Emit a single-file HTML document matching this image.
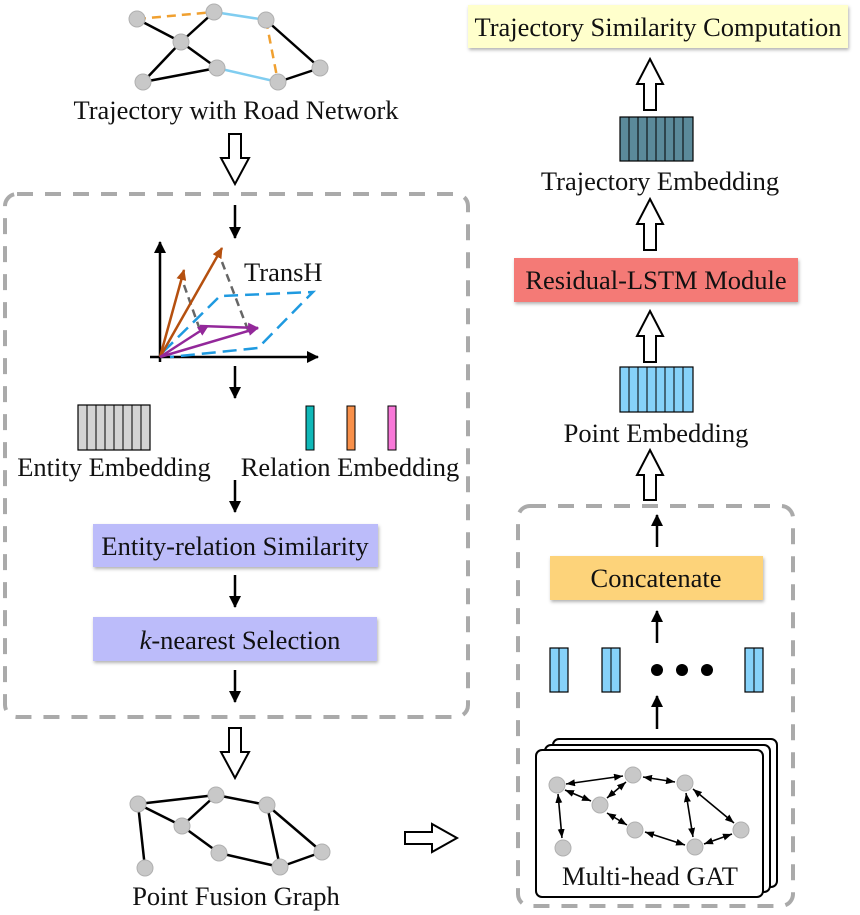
<!DOCTYPE html>
<html><head><meta charset="utf-8"><style>
html,body{margin:0;padding:0;background:#fff;}
svg{display:block;}
text{font-family:"Liberation Serif",serif;font-size:26.5px;fill:#111;}
</style></head><body>
<svg width="860" height="915" viewBox="0 0 860 915" xmlns="http://www.w3.org/2000/svg">
<defs>
<marker id="ahs" markerWidth="9" markerHeight="7" refX="9" refY="3.5" orient="auto-start-reverse" markerUnits="userSpaceOnUse"><path d="M0,0 L9,3.5 L0,7 z" fill="#000"/></marker>
<marker id="ao" markerWidth="11" markerHeight="10" refX="10" refY="5" orient="auto" markerUnits="userSpaceOnUse"><path d="M0,0 L11,5 L0,10 z" fill="#b5500f"/></marker>
<marker id="ap" markerWidth="11" markerHeight="10" refX="10" refY="5" orient="auto" markerUnits="userSpaceOnUse"><path d="M0,0 L11,5 L0,10 z" fill="#93289a"/></marker>
<marker id="ab" markerWidth="12" markerHeight="12" refX="11" refY="6" orient="auto" markerUnits="userSpaceOnUse"><path d="M0,0 L12,6 L0,12 z" fill="#000"/></marker>
<filter id="sh" x="-5%" y="-20%" width="110%" height="150%"><feDropShadow dx="1" dy="2" stdDeviation="1.5" flood-color="#000" flood-opacity="0.3"/></filter>
</defs>

<g stroke-width="2.5">
<line x1="137" y1="19" x2="214" y2="12" stroke="#f0a030" stroke-dasharray="9,6"/>
<line x1="214" y1="12" x2="266" y2="20" stroke="#80cdf0"/>
<line x1="266" y1="20" x2="278" y2="82" stroke="#f0a030" stroke-dasharray="9,6"/>
<line x1="266" y1="20" x2="320" y2="68" stroke="#000"/>
<line x1="320" y1="68" x2="278" y2="82" stroke="#000"/>
<line x1="278" y1="82" x2="217" y2="68" stroke="#80cdf0"/>
<line x1="217" y1="68" x2="181" y2="42" stroke="#000"/>
<line x1="181" y1="42" x2="137" y2="19" stroke="#000"/>
<line x1="181" y1="42" x2="214" y2="12" stroke="#000"/>
<line x1="181" y1="42" x2="143" y2="82" stroke="#000"/>
<line x1="143" y1="82" x2="217" y2="68" stroke="#000"/>
</g>
<g fill="#c8c8c8" stroke="#b0b0b0" stroke-width="1">
<circle cx="137" cy="19" r="8"/><circle cx="214" cy="12" r="8"/><circle cx="266" cy="20" r="8"/><circle cx="181" cy="42" r="8"/><circle cx="217" cy="68" r="8"/><circle cx="320" cy="68" r="8"/><circle cx="143" cy="82" r="8"/><circle cx="278" cy="82" r="8"/>
</g>
<text x="236" y="119" text-anchor="middle">Trajectory with Road Network</text>

<path d="M229,134 H241 V158 H249 L235,184 L221,158 H229 Z" fill="#fff" stroke="#000" stroke-width="2"/>
<path d="M229,728 H241 V752 H249 L235,778 L221,752 H229 Z" fill="#fff" stroke="#000" stroke-width="2"/>

<rect x="5" y="194" width="463" height="523" rx="12" fill="none" stroke="#aaa" stroke-width="4" stroke-dasharray="16,12"/>

<g stroke="#000" stroke-width="2.5" marker-end="url(#ab)">
<line x1="235" y1="205" x2="235" y2="238"/>
<line x1="235" y1="366" x2="235" y2="398"/>
<line x1="235" y1="480" x2="235" y2="512"/>
<line x1="235" y1="575" x2="235" y2="607"/>
<line x1="235" y1="670" x2="235" y2="702"/>
</g>

<g stroke-width="2.5">
<line x1="160" y1="362" x2="160" y2="242" stroke="#000" marker-end="url(#ab)"/>
<line x1="150" y1="357" x2="318" y2="357" stroke="#000" marker-end="url(#ab)"/>
<line x1="184" y1="285" x2="200" y2="330" stroke="#666" stroke-dasharray="8,5"/>
<line x1="222" y1="262" x2="248" y2="330" stroke="#666" stroke-dasharray="8,5"/>
<path d="M163,352 L220,296 L313,292 L258,348 L170,357" fill="none" stroke="#1f9ae0" stroke-dasharray="14,7"/>
<line x1="160" y1="357" x2="184" y2="270" stroke="#b5500f" marker-end="url(#ao)"/>
<line x1="160" y1="357" x2="222" y2="248" stroke="#b5500f" marker-end="url(#ao)"/>
<line x1="160" y1="357" x2="208" y2="326" stroke="#93289a" marker-end="url(#ap)"/>
<line x1="160" y1="357" x2="258" y2="328" stroke="#93289a" marker-end="url(#ap)"/>
<line x1="200" y1="326" x2="258" y2="328" stroke="#93289a" marker-end="url(#ap)"/>
</g>
<text x="244" y="281">TransH</text>

<rect x="78" y="405" width="72" height="45" fill="#d3d3d3" stroke="#000" stroke-width="1.2"/>
<g stroke="#000" stroke-width="1"><line x1="87" y1="405" x2="87" y2="450"/><line x1="96" y1="405" x2="96" y2="450"/><line x1="105" y1="405" x2="105" y2="450"/><line x1="114" y1="405" x2="114" y2="450"/><line x1="123" y1="405" x2="123" y2="450"/><line x1="132" y1="405" x2="132" y2="450"/><line x1="141" y1="405" x2="141" y2="450"/></g>
<text x="114" y="476" text-anchor="middle">Entity Embedding</text>
<rect x="306" y="406" width="8" height="44" fill="#10b8b8" stroke="#000" stroke-width="1"/>
<rect x="347" y="406" width="8" height="44" fill="#f8904a" stroke="#000" stroke-width="1"/>
<rect x="388" y="406" width="8" height="44" fill="#f878d8" stroke="#000" stroke-width="1"/>
<text x="350" y="476" text-anchor="middle">Relation Embedding</text>

<rect x="93" y="524" width="285" height="43" fill="#bcbcfa" filter="url(#sh)"/>
<text x="235" y="555" text-anchor="middle">Entity-relation Similarity</text>
<rect x="93" y="617" width="284" height="44" fill="#bcbcfa" filter="url(#sh)"/>
<text x="240" y="649" text-anchor="middle"><tspan font-style="italic">k</tspan>-nearest Selection</text>

<g stroke="#000" stroke-width="2.5">
<line x1="138" y1="804" x2="216" y2="795"/><line x1="216" y1="795" x2="267" y2="805"/>
<line x1="138" y1="804" x2="182" y2="826"/><line x1="182" y1="826" x2="216" y2="795"/>
<line x1="138" y1="804" x2="145" y2="868"/><line x1="182" y1="826" x2="219" y2="853"/>
<line x1="219" y1="853" x2="280" y2="867"/><line x1="267" y1="805" x2="280" y2="867"/>
<line x1="267" y1="805" x2="322" y2="852"/><line x1="322" y1="852" x2="280" y2="867"/>
</g>
<g fill="#c8c8c8" stroke="#b0b0b0" stroke-width="1">
<circle cx="138" cy="804" r="8"/><circle cx="216" cy="795" r="8"/><circle cx="267" cy="805" r="8"/><circle cx="182" cy="826" r="8"/><circle cx="219" cy="853" r="8"/><circle cx="322" cy="852" r="8"/><circle cx="145" cy="868" r="8"/><circle cx="280" cy="867" r="8"/>
</g>
<text x="236" y="905" text-anchor="middle">Point Fusion Graph</text>

<path d="M405,832 H432 V824 L457,838 L432,852 V844 H405 Z" fill="#fff" stroke="#000" stroke-width="2"/>

<rect x="468" y="5" width="380" height="43" fill="#ffffcc" filter="url(#sh)"/>
<text x="658" y="36" text-anchor="middle">Trajectory Similarity Computation</text>

<g fill="#fff" stroke="#000" stroke-width="2">
<path d="M650,59 L663,84 H656 V110 H644 V84 H637 Z"/>
<path d="M650,199 L663,224 H656 V250 H644 V224 H637 Z"/>
<path d="M650,311 L663,336 H656 V362 H644 V336 H637 Z"/>
<path d="M650,450 L663,475 H656 V500 H644 V475 H637 Z"/>
</g>

<rect x="620" y="117" width="73" height="44" fill="#5b8a9a" stroke="#000" stroke-width="1.2"/>
<g stroke="#000" stroke-width="1"><line x1="629" y1="117" x2="629" y2="161"/><line x1="638" y1="117" x2="638" y2="161"/><line x1="647" y1="117" x2="647" y2="161"/><line x1="656" y1="117" x2="656" y2="161"/><line x1="665" y1="117" x2="665" y2="161"/><line x1="674" y1="117" x2="674" y2="161"/><line x1="683" y1="117" x2="683" y2="161"/></g>
<text x="660" y="190" text-anchor="middle">Trajectory Embedding</text>

<rect x="514" y="258" width="284" height="44" fill="#f47a76" filter="url(#sh)"/>
<text x="656" y="289" text-anchor="middle">Residual-LSTM Module</text>

<rect x="620" y="367" width="73" height="45" fill="#86d2fa" stroke="#000" stroke-width="1.2"/>
<g stroke="#000" stroke-width="1"><line x1="629" y1="367" x2="629" y2="412"/><line x1="638" y1="367" x2="638" y2="412"/><line x1="647" y1="367" x2="647" y2="412"/><line x1="656" y1="367" x2="656" y2="412"/><line x1="665" y1="367" x2="665" y2="412"/><line x1="674" y1="367" x2="674" y2="412"/><line x1="683" y1="367" x2="683" y2="412"/></g>
<text x="656" y="442" text-anchor="middle">Point Embedding</text>

<rect x="518" y="506" width="275" height="400" rx="12" fill="none" stroke="#aaa" stroke-width="4" stroke-dasharray="16,12"/>

<g stroke="#000" stroke-width="2.5" marker-end="url(#ab)">
<line x1="657" y1="547" x2="657" y2="515"/>
<line x1="657" y1="643" x2="657" y2="611"/>
<line x1="657" y1="729" x2="657" y2="696"/>
</g>

<rect x="550" y="556" width="213" height="44" fill="#fdd37a" filter="url(#sh)"/>
<text x="656" y="587" text-anchor="middle">Concatenate</text>

<g fill="#86d2fa" stroke="#000" stroke-width="1.2">
<rect x="550" y="648" width="18" height="44"/><rect x="602" y="648" width="18" height="44"/><rect x="745" y="648" width="18" height="44"/>
</g>
<g stroke="#000" stroke-width="1"><line x1="559" y1="648" x2="559" y2="692"/><line x1="611" y1="648" x2="611" y2="692"/><line x1="754" y1="648" x2="754" y2="692"/></g>
<circle cx="657" cy="670" r="6"/><circle cx="682" cy="670" r="6"/><circle cx="707" cy="670" r="6"/>

<rect x="553" y="739" width="224" height="148" rx="6" fill="#fff" stroke="#000" stroke-width="2"/>
<rect x="545" y="745" width="225" height="147" rx="6" fill="#fff" stroke="#000" stroke-width="2"/>
<rect x="536" y="750" width="227" height="147" rx="6" fill="#fff" stroke="#000" stroke-width="2"/>

<g stroke="#000" stroke-width="1.6" marker-start="url(#ahs)" marker-end="url(#ahs)">
<line x1="566" y1="784" x2="623" y2="776"/>
<line x1="643" y1="777" x2="675" y2="782"/>
<line x1="565" y1="790" x2="591" y2="801"/>
<line x1="607" y1="798" x2="626" y2="782"/>
<line x1="558" y1="794" x2="562" y2="838"/>
<line x1="607" y1="813" x2="627" y2="825"/>
<line x1="645" y1="832" x2="685" y2="845"/>
<line x1="686" y1="793" x2="693" y2="837"/>
<line x1="693" y1="789" x2="734" y2="823"/>
<line x1="732" y1="834" x2="704" y2="844"/>
</g>
<g fill="#c8c8c8" stroke="#b0b0b0" stroke-width="1">
<circle cx="557" cy="785" r="8"/><circle cx="633" cy="775" r="8"/><circle cx="685" cy="783" r="8"/><circle cx="600" cy="805" r="8"/><circle cx="635" cy="830" r="8"/><circle cx="741" cy="830" r="8"/><circle cx="563" cy="848" r="8"/><circle cx="695" cy="847" r="8"/>
</g>
<text x="650" y="885" text-anchor="middle">Multi-head GAT</text>
</svg>
</body></html>
